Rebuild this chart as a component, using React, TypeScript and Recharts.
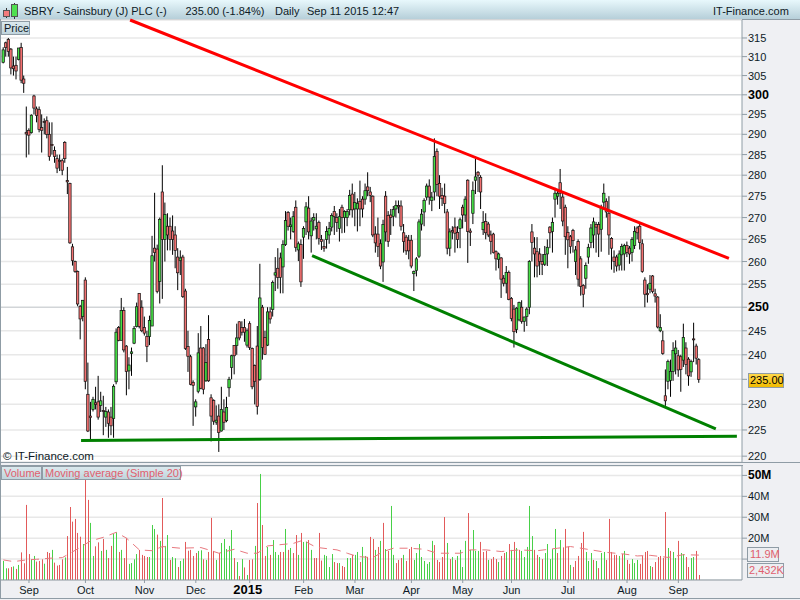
import React from "react";
import { ComposedChart, Bar, Line, XAxis, YAxis, CartesianGrid, ReferenceLine } from "recharts";

type C = number[];
// each candle: open, high, low, close
const aug14: C[] = [[308.5,312.5,308.2,311.8],[313.7,314,310,312.4],[314.6,315,310,311.4],[312,312.3,305.3,307],[307.5,310,305,306.8],[307.7,310,304,306.2],[309.2,312.3,309,312.3],[312.4,313.7,303,303.8],[304.1,305,300.5,303],[290.5,297,284.3,290.1]];
const sep14: C[] = [[291,291.5,285,289.8],[290.4,295,290.2,294.8],[299.7,300,295,296.6],[296.4,297,293,294.7],[296.2,297,290.5,291.2],[291.7,295,285.5,291],[293.2,294,290,293],[293.4,294.5,289,290],[290,293,283.5,284.5],[287.5,293,285,287.2],[286,287,283,284.5],[284,285,280.5,281.7],[283.6,285,281,283.4],[283.5,284,280,281.2],[288,288.3,283,284],[278.7,282,275.5,278.4],[278,278.2,264,264.2],[263.3,264,259.1,260.2],[260,260.2,257.5,257.8],[257.8,258,250.2,250.7],[250.2,250.5,243.2,247.5],[248,251.5,247,251.5]];
const oct14: C[] = [[255.9,256.5,233,234.6],[232,238.4,224.6,224.8],[227.7,230.5,222.9,227.4],[229,231.5,228.6,231],[230.3,233.5,229,230],[230.5,235.7,227,227.5],[229.8,232.5,228.5,230.7],[228.8,231.7,224,228.6],[227.5,229.5,225.6,228.6],[228.5,229,223.5,226.3],[227.5,229.5,224,225.8],[227.2,234,223.5,233.6],[234.5,245.5,234,244.7],[245.7,246,242.8,243],[243,252,243,249.3],[249.3,250,240.5,241],[241.8,242,231.8,236.6],[236.7,239.5,233,237.9],[240.3,241.5,235.7,240.6],[242.4,246,242.2,245.5],[245.9,251,245.7,250.1],[253,253,245.5,245.9],[250,251.5,244.7,245]];
const nov14: C[] = [[245.7,248,244,244.5],[243.8,245,238.5,241.7],[243.8,248.2,242,247.2],[246,265.8,246,261.3],[263,275.8,260,262],[262.8,263.8,253,253.4],[255.6,270,250.8,269.6],[276,282.4,251.8,265],[265,273.5,260,270.7],[268,271,262.5,266],[268,270,262.5,265],[266.9,270.5,261.5,265],[266,268,258.5,262.5],[261,263,253.7,257.5],[260.2,262.5,257,260.8],[261,261.5,252,252.3],[253.5,254,241,241.3],[241.7,245,236.5,239.7],[239.6,240,233.8,234],[234.4,234.8,225.8,233.8]];
const dec14: C[] = [[229.5,231,227.6,230.5],[232.6,244.5,232.2,240.4],[241.4,246,233,233.2],[241.4,241.6,232,233],[234.7,242.2,234.5,238.4],[243.2,248.3,234.5,234.7],[231.3,232,222.8,227.7],[230.8,231,226,226.7],[226.5,229.8,226,226.9],[227.7,230,220.8,224.5],[224.8,233.5,224.7,229],[228.5,231,225,226.5],[226.8,231.5,226.5,229.4],[233.3,235.5,231.5,235],[237.4,240,235,239.8],[241.9,242,236,239.8],[241.9,246.5,240,243.5],[246.9,247,243,243.5],[245.7,247,244,244.7],[245.7,247.5,242.7,244.7],[242,245.5,241.5,245]];
const jan15: C[] = [[246.5,247,241,241.5],[241.3,241.5,233,233.5],[237.8,238,230,234.6],[241.8,246,228,229.6],[235,259.5,234.7,252],[250,250.5,239,241.5],[243.6,245,240,240.1],[242,250,241.8,249],[249,250,246.5,247.5],[249.5,255.8,248,255.4],[257,261,253.5,257.5],[258.5,263,254,256.5],[260.8,262,253,256.5],[258.8,264.8,253,263.8],[263.8,271.5,263.5,269.3],[271.2,271.5,267,268],[267.9,270,265,268.3],[266.8,271.5,266.5,270.2],[272.4,274,262.2,263.2],[262.6,264.5,260.1,264],[263.8,265,254.4,255.5]];
const feb15: C[] = [[265.5,268,260.6,267.5],[269,273.6,266,272.5],[272.2,275,265,266.7],[265.8,270,262,269.2],[269.4,271,267,270],[267.4,271,265,268],[268.9,269.3,263.8,265.2],[265,266,262.6,264.5],[263.4,265,262.2,263],[265,268,262.9,266.8],[266,269,264,267.5],[267.8,271,266.8,270.5],[271.4,272.7,266,270.2],[270,271,266.7,268.9],[267.5,272,264.5,270.2],[272.4,273,266.4,270],[270,271.7,266.5,271.4],[270,272,268,271.4],[271.8,276.5,270.5,275.2],[275.5,278,270,271.8]];
const mar15: C[] = [[272,276,268,273.5],[272,274.5,266.8,273.3],[273.8,278.7,268,272],[274.3,275,270,272],[274.3,278,273,276.3],[277.2,280.7,275,276.3],[276,277.2,273.6,275.2],[275,275.2,265.5,266],[266.2,268,262,264.2],[266.2,270,261,263.4],[264,265,258.3,259],[259.9,269.5,255.5,268.4],[275,276.2,264.5,266.7],[270.5,271.5,263.3,264.5],[270.6,272,266,270],[270.3,272.7,268,271.9],[272,274,270,272.8],[272.8,274,271,272.5],[272.7,274,267,268],[266.5,268.5,262,264.5],[265.5,266,261.5,262.4],[264.8,266,260.5,262.4]];
const apr15: C[] = [[264.8,266,258.5,259],[257.3,258,253.5,257.8],[258,261,256.7,260.6],[261.2,269.6,260.8,269],[268.5,272,267,270.8],[271.3,274.5,268,274],[274.8,278,274,277.4],[277.4,279,273,274.8],[274,276,271.5,274.8],[276,289,274,284.5],[285.8,286.5,275,277.8],[278,280,272,275],[275.2,277,272.7,274.4],[275,278,271,273.3],[271.3,272,261.6,263],[263,267.5,261.2,266.7],[267,268,265,266.7],[267.8,270,262,266.4],[266.6,268,263,265],[267.5,270,263,269.5]];
const may15: C[] = [[272.4,273,267.5,270.6],[270.6,275,269,274.3],[278.8,279,259.7,266.8],[266.9,267.5,263.5,266.6],[271,278.5,268.5,276.4],[278.8,284,275.5,279.6],[280.7,281,276,280],[279.5,280,272,276],[267.2,271.5,266,268.9],[269.1,271,265,266.5],[268.5,269,265.5,266],[266,267,261.6,264.5],[266.2,266.5,261.8,262],[262.2,262.5,258,260.6],[260.5,262,258.5,261.7],[260.8,261,252,256.1],[256.3,257,254.5,255.2],[255.2,259,253,257.6],[257.6,258,251.5,251.7]];
const jun15: C[] = [[251.9,252.2,247,247.6],[249.6,250.5,241.5,244.8],[245.3,250,244.5,249.8],[247.3,251.2,247,251],[250,251.5,246.5,247],[247,248,244.8,247.9],[248,250,246,249.6],[250,260.3,248.5,260],[266.7,268.5,260,264.3],[263,265.5,256.5,261.7],[262.2,265.5,256.5,259],[261.7,263,257,260],[260,261.7,257,259.4],[259.4,263.5,259,261.6],[261.7,265,259,263.2],[267.8,268,263,266.5],[266.8,270,262,268.9],[274.3,277,270,275.7],[275,276.5,273,275.7],[278.2,281.5,272,275.7],[274.8,276,268,269.2],[272.4,273,261.5,265.6]];
const jul15: C[] = [[266.6,268,258.5,264.9],[265.6,266,261.8,263.4],[267,267.4,262,264.7],[260,263.5,257,262.6],[264.5,265,254.5,256.1],[260.6,261.2,252.5,254.5],[254.7,255,250,252.8],[256.3,259.8,254,259.1],[261,264,259.5,263.2],[264.3,268.5,263,267.6],[266,270,263,269],[268.4,269,262,267.8],[268.4,269,261,266.2],[267.3,273,262.2,272.4],[273.6,278,272,275.7],[273.8,274.5,270,271.3],[271,275,261.5,266],[265.2,265.5,258.2,263],[261,262.5,257.5,260],[261,261.5,257.8,259],[259.2,262.5,258,261.7],[261.5,264,258,263.4],[261.7,264,258,263.6]];
const aug15: C[] = [[263.6,264.5,261,262],[263,263.5,259.5,261.7],[262,265.5,260,265],[263.6,268,262.8,266.8],[267.6,268,265,266.5],[268,268.5,262.7,264.3],[264,265,257.5,257.8],[255.9,256.5,250,252.8],[253,255,251,252.7],[253.9,257,253,255.2],[256.8,257,253,253.4],[252.9,254,251,252.4],[252.2,252.4,245.5,245.8],[245,248.5,244.7,245.7],[242.9,245,240,240.3],[231.7,237,229.7,230.7],[234.6,239,233,238.6],[234.8,239,231.5,236.6],[236.6,242.6,234.7,240.9],[240.2,243,236,241.4]];
const sep15: C[] = [[239.8,241,235.5,236.9],[239.6,240,232.5,237],[238.9,246.5,237.5,243.6],[241.4,242.6,236,238],[239.1,239.5,233.7,235.7],[236.5,239,235.5,238.6],[243.3,246.7,238.5,243.1],[241.8,242.3,238,239.3],[239,239.3,234.3,235]];

const months = [sep14, oct14, nov14, dec14, jan15, feb15, mar15, apr15, may15, jun15, jul15, aug15, sep15];
const monthLabels = ["Sep", "Oct", "Nov", "Dec", "2015", "Feb", "Mar", "Apr", "May", "Jun", "Jul", "Aug", "Sep"];

// volume in millions and colour per bar
const volAug14 = [9.1,5.6,5.6,6.2,6.5,5.3,7.2,13.2,8,35.9];
const volSep14 = [12.4,10,11.5,8.8,9.1,9.9,7.8,13.4,12.9,14.4,8.3,6.9,7.2,9.9,10.8,21,34.9,27.9,29.2,22.5,20.7,17.2];
const volOct14 = [47.8,38.3,27.3,11.5,16.1,18,13.9,19.6,14.4,10.5,16.3,22,22.8,13.4,14.4,10.5,20,7.7,8.1,9.9,12.4,14.4,12];
const volNov14 = [11.5,11,11,26.3,24.4,21.7,18.7,39.2,16.3,21.5,9.6,11,10.4,6.2,9.1,10.2,18.2,14,14.4,11.5];
const volDec14 = [12.9,13.9,14.2,9.9,9.6,13.4,29.7,13.9,9.6,12.9,17.7,19.6,14.8,16.3,23.9,10.5,8.6,1.9,10,6,2.4];
const volJan15 = [9.6,9.9,16.3,36.8,50.7,26.3,11.5,15.8,12,19.1,13.4,12,13.4,13.4,24.4,14.4,15.3,12.9,21.5,12,22.5];
const volFeb15 = [18.2,18.3,19.1,14.4,10.5,10.5,22.5,9.3,12,11.5,6.2,12.4,8.6,8.1,8.1,6.7,6.2,10.5,10.5,12];
const volMar15 = [12,13.4,8.6,15.8,11.5,11,20.6,19.6,14.4,15.8,18.7,27.3,14.8,13.9,35.4,12,8.1,9.6,10.5,12,9.1,14.8];
const volApr15 = [15.8,9.6,12.9,17.2,11,9.1,7.7,8.6,18.7,16.7,9.6,8.6,11,30.1,17.7,10,11,9.6,11.5,14.4];
const volMay15 = [6.2,18.7,32,14.4,23.9,13.9,13.9,18.2,13.4,13.9,9.6,10,11,10,8.6,11.5,12.9,13.4,17.2];
const volJun15 = [14.4,18.2,15.3,14.4,13.9,11,15.8,35.4,21,14.4,12,11,10,12.9,17.2,10,14.8,24.4,12.9,19.1,15.6,24.4];
const volJul15 = [16,7.2,6.2,9.1,11.5,17.7,23,13.4,9.1,12.9,9.6,9.1,5.7,12.9,13.4,9.6,29.2,13.4,12,12,11.5,12.4,13.9];
const volAug15 = [9.6,7.7,10,8.1,9.6,7.7,11.5,13.4,13.9,6.7,6.2,8.6,11,11.5,10.5,32.5,15.3,13.9,13.4,10.5];
const volSep15 = [18.7,12.9,12.4,11,6.2,10.5,11,13.9,2.4];
const volumeColours = "ggrrgrgrrr" + "rggrrrgrrgrrrrgrrrrrrg" + "rrggrrgrgrrggrgrrggggrr" + "rrgggrgrggrggrggrrrr" + "rggrgrrrgrgggggrgrgrg" + "rrgrgrrgrgggrrgrgrrgr" + "ggrgrrrrggggrrgrrggr" + "ggrggrrrgrgrgrggrrrgrr" + "rggggggggrrrrrgrgrgg" + "ggrggggrrrgrrrgrrgr" + "grgrgggggrrgrgggggrgrr" + "rgrrrrrgggrgrggrrrrrgrg" + "rrgggrrrrgrrrrrrgrgg" + "rggrrggrr";

const maIndex = [0,4,9,13,18,23,26,30,34,39,44,48,53,58,62,69,77,80,84,90,95,99,103,113,117,119,122,130,134,138,144,148,152,158,164,169,178,182,188,194,201,208,216,221,229,235,242,247,252,259,265,271];
const maValue = [9.6,8.8,9.6,9.9,10.4,10.7,12.8,15.6,18.7,20.4,22.8,20,14.4,14,16,15.2,15.5,14.4,12.8,14.7,12.8,12.8,16.3,17.5,19.1,17.5,15.6,14.4,12.8,11.2,10.7,13.6,15.2,15.2,14.7,12.8,12.8,14.4,14.4,13.6,14.4,14,15.2,16,14.4,13.2,12.4,11.5,11.8,10.8,12.1,11.9];

const priceTicks = [220,225,230,235,240,245,250,255,260,265,270,275,280,285,290,295,300,305,310,315];
const strongPrices = [250, 300];
const coveredPrice = 235;
const volumeTicks = [10,20,30,40,50];
const coveredVolume = 10;

const redTrendIndex = [49.4, 282.7];
const redTrendPrice = [319.9, 260.7];
const greenTrendIndex = [120.3, 277.6];
const greenTrendPrice = [261.3, 225.2];
const floorTrendIndex = [30.3, 285.8];
const floorTrendPrice = [223.0, 223.8];

const candles = [aug14, ...months].flat();
const volumes = [volAug14, volSep14, volOct14, volNov14, volDec14, volJan15, volFeb15, volMar15, volApr15, volMay15, volJun15, volJul15, volAug15, volSep15].flat();

const priceRows = candles.map((c, i) => ({ index: i, open: c[0], high: c[1], low: c[2], close: c[3] }));
const volumeRows = volumes.map((v, i) => {
  const at = maIndex.indexOf(i);
  return { index: i, volume: v, colour: volumeColours[i], ma: at >= 0 ? maValue[at] : null };
});
const monthStarts: number[] = [];
{
  let n = aug14.length;
  months.forEach((m) => { monthStarts.push(n); n += m.length; });
}

const xDomain = [-0.9, 287.8];
const GREY = "#8f9ca5";
const INK = "#0e1a26";
const FONT = "'Liberation Sans', Arial, sans-serif";

function CandleShape(props: any) {
  const { x, y, width, height, payload } = props;
  const top = Math.min(y, y + height);
  const h = Math.abs(height);
  const { open, high, low, close } = payload;
  const span = Math.log(high) - Math.log(low) || 1;
  const at = (v: number) => top + (h * (Math.log(high) - Math.log(v))) / span;
  const cx = x + width / 2;
  const y1 = at(Math.max(open, close));
  const y2 = Math.max(at(Math.min(open, close)), y1 + 1);
  const up = close >= open;
  return (
    <g>
      <line x1={cx} x2={cx} y1={top} y2={top + h} stroke="#000" strokeWidth={1} />
      <rect x={cx - 1.2} y={y1} width={2.4} height={y2 - y1} fill={up ? "#46e046" : "#f27070"} stroke="#111" strokeWidth={0.7} />
    </g>
  );
}

function VolumeShape(props: any) {
  const { x, y, width, height, payload } = props;
  const cx = Math.round(x + width / 2 - 0.5);
  return <rect x={cx} y={y} width={1} height={height} fill={payload.colour === "g" ? "#48d048" : "#e25a5a"} />;
}

function gridLine(strong: (y: number) => boolean) {
  return (p: any) => (
    <line x1={p.x1} x2={p.x2} y1={p.y1} y2={p.y2} stroke={strong(p.index) ? "#d2d5d8" : "#e8e8e8"} strokeWidth={1.5} />
  );
}

function PriceTick(props: any) {
  const { x, y, payload } = props;
  if (payload.value === coveredPrice) return <g />;
  const strong = strongPrices.includes(payload.value);
  return (
    <text x={x} y={y + 4} fontFamily={FONT} fontSize={strong ? 12.5 : 11} fontWeight={strong ? 700 : 400} fill={strong ? "#000" : INK}>
      {payload.value}
    </text>
  );
}

function VolumeTick(props: any) {
  const { x, y, payload } = props;
  if (payload.value === coveredVolume) return <g />;
  const strong = payload.value === 50;
  return (
    <text x={x} y={y + 4} fontFamily={FONT} fontSize={strong ? 12 : 11} fontWeight={strong ? 700 : 400} fill={strong ? "#000" : INK}>
      {payload.value}M
    </text>
  );
}

function MonthTick(props: any) {
  const { x, y, payload } = props;
  const label = monthLabels[monthStarts.indexOf(payload.value)];
  const strong = label === "2015";
  return (
    <text x={x - (strong ? 2 : 0)} y={y + 9} textAnchor="middle" fontFamily={FONT} fontSize={strong ? 13 : 11} fontWeight={strong ? 700 : 400} fill={strong ? "#000" : INK}>
      {label}
    </text>
  );
}

const abs = (left: number, top: number, extra: React.CSSProperties = {}): React.CSSProperties => ({
  position: "absolute", left, top, whiteSpace: "nowrap", fontFamily: FONT, fontSize: 11, lineHeight: "13px", color: INK, ...extra,
});
const tag: React.CSSProperties = { background: "linear-gradient(#dbe9ee,#c0d4dc)", border: `1px solid ${GREY}`, boxSizing: "border-box", paddingLeft: 2 };

export default function App() {
  return (
    <div style={{ position: "fixed", left: 0, top: 0, width: 800, height: 600, background: "#eff0f3", overflow: "hidden" }}>
      <div style={{ position: "absolute", left: 0, top: 0, width: 800, height: 20, boxSizing: "border-box", background: "linear-gradient(#e8f8fc,#b6cfd9)", borderBottom: `1px solid ${GREY}` }} />
      <div style={{ position: "absolute", left: 0, top: 0 }}>
        <ComposedChart width={800} height={463} data={priceRows} margin={{ top: 20, left: 1, right: 0, bottom: 1 }}>
          <CartesianGrid vertical={false} fill="#fff" stroke="#e8e8e8" horizontal={gridLine((i) => priceTicks[i] === 250 || priceTicks[i] === 300)} />
          <XAxis dataKey="index" type="number" domain={xDomain} hide />
          <YAxis orientation="right" width={58} scale="log" domain={[218.9, 319.9]} allowDataOverflow ticks={priceTicks} interval={0} tick={<PriceTick />} tickSize={5} tickMargin={1} stroke={GREY} />
          <Bar dataKey={(d: any) => [d.low, d.high]} barSize={3} shape={<CandleShape />} isAnimationActive={false} />
          <ReferenceLine ifOverflow="visible" stroke="#ff0000" strokeWidth={3} segment={[{ x: redTrendIndex[0], y: redTrendPrice[0] }, { x: redTrendIndex[1], y: redTrendPrice[1] }]} />
          <ReferenceLine ifOverflow="visible" stroke="#008000" strokeWidth={3} segment={[{ x: greenTrendIndex[0], y: greenTrendPrice[0] }, { x: greenTrendIndex[1], y: greenTrendPrice[1] }]} />
          <ReferenceLine ifOverflow="visible" stroke="#008000" strokeWidth={3} segment={[{ x: floorTrendIndex[0], y: floorTrendPrice[0] }, { x: floorTrendIndex[1], y: floorTrendPrice[1] }]} />
        </ComposedChart>
      </div>
      <div style={{ position: "absolute", left: 0, top: 466 }}>
        <ComposedChart width={800} height={134} data={volumeRows} margin={{ top: 0, left: 1, right: 0, bottom: 0 }}>
          <CartesianGrid vertical={false} fill="#fff" stroke="#e8e8e8" horizontal={gridLine(() => false)} />
          <XAxis dataKey="index" type="number" domain={xDomain} ticks={monthStarts} interval={0} height={20} tick={<MonthTick />} tickSize={3} stroke={GREY} />
          <YAxis orientation="right" width={58} domain={[0, 54.5]} allowDataOverflow ticks={volumeTicks} interval={0} tick={<VolumeTick />} tickSize={5} tickMargin={1} stroke={GREY} />
          <Bar dataKey="volume" barSize={1} shape={<VolumeShape />} isAnimationActive={false} />
          <Line dataKey="ma" connectNulls dot={false} stroke="#e8797f" strokeWidth={1} strokeDasharray="8 6" isAnimationActive={false} />
        </ComposedChart>
      </div>

      {/* frame */}
      <div style={{ position: "absolute", left: 0, top: 20, width: 1, height: 578, background: GREY }} />
      <div style={{ position: "absolute", left: 0, top: 462, width: 800, height: 1, background: GREY }} />
      <div style={{ position: "absolute", left: 0, top: 465, width: 743, height: 1, background: GREY }} />
      <div style={{ position: "absolute", left: 0, top: 598, width: 800, height: 1, background: GREY }} />

      {/* header */}
      <svg style={{ position: "absolute", left: 0, top: 0 }} width={20} height={20}>
        <line x1={6.5} x2={6.5} y1={8} y2={18} stroke="#333" />
        <rect x={3.5} y={10.5} width={6} height={6} fill="#f27c7c" stroke="#555" />
        <line x1={14.5} x2={14.5} y1={3} y2={19} stroke="#333" />
        <rect x={11.5} y={4.5} width={6} height={12} fill="#4fe04f" stroke="#555" />
      </svg>
      <div style={abs(24, 5)}>SBRY - Sainsbury (J) PLC (-)</div>
      <div style={abs(185.5, 5)}>235.00 (-1.84%)</div>
      <div style={abs(275, 5)}>Daily</div>
      <div style={abs(307, 5)}>Sep 11 2015 12:47</div>
      <div style={abs(713, 5)}>IT-Finance.com</div>

      <div style={{ ...abs(1, 21), ...tag, width: 29, height: 14 }}>Price</div>
      <div style={abs(3, 450, { fontSize: 11.5 })}>© IT-Finance.com</div>

      <div style={{ ...abs(1, 466), ...tag, width: 41, height: 14, color: "#e0606e" }}>Volume</div>
      <div style={{ ...abs(42, 466), ...tag, width: 139, height: 14, color: "#e0606e" }}>Moving average (Simple 20)</div>

      <div style={{ ...abs(748, 373), width: 36, height: 15, boxSizing: "border-box", background: "linear-gradient(#ffd84a,#f2bc00)", border: `1px solid ${GREY}`, paddingLeft: 1, color: "#000" }}>235.00</div>
      <div style={{ ...abs(747, 547), width: 32, height: 15, boxSizing: "border-box", background: "#eceef1", border: `1px solid ${GREY}`, paddingLeft: 2, color: "#e0606e" }}>11.9M</div>
      <div style={{ ...abs(747, 563), width: 37, height: 15, boxSizing: "border-box", background: "#eceef1", border: `1px solid ${GREY}`, paddingLeft: 1, color: "#e0606e" }}>2,432K</div>
    </div>
  );
}
